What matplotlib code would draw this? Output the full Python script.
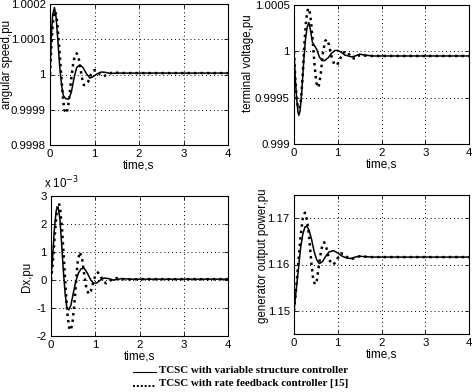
import numpy as np
import matplotlib
matplotlib.use('Agg')
import matplotlib.pyplot as plt
from matplotlib.ticker import MultipleLocator, FuncFormatter

plt.rcParams['font.family'] = 'Liberation Sans'
plt.rcParams['font.size'] = 8.5

# ---- data ----
# angular speed (pu)
t_w_vsc = [0, 0.03, 0.06, 0.1, 0.14, 0.18, 0.22, 0.26, 0.3, 0.35, 0.42, 0.48, 0.54, 0.6, 0.67, 0.74,
           0.82, 0.9, 0.98, 1.06, 1.15, 1.25, 1.35, 1.5, 1.7, 2.0, 4.0]
w_vsc = [1.0, 1.00011, 1.00017, 1.00019, 1.00016, 1.00009, 1.00002, 0.99997, 0.99994, 0.999932, 0.99993,
         0.99995, 0.99999, 1.00002, 1.000027, 1.00002, 1.000002, 0.99999, 0.999995, 1.000002, 1.000007,
         1.000006, 1.000003, 1.000004, 1.000004, 1.000004, 1.000004]
t_w_rfc = [0, 0.03, 0.06, 0.09, 0.12, 0.16, 0.2, 0.24, 0.28, 0.32, 0.375, 0.42, 0.47, 0.52, 0.56, 0.6, 0.64,
           0.68, 0.72, 0.76, 0.8, 0.86, 0.92, 0.97, 1.01, 1.06, 1.12, 1.2, 1.3, 1.4, 1.5, 1.7, 2.0, 4.0]
w_rfc = [1.0, 1.00008, 1.00014, 1.00017, 1.00018, 1.00015, 1.00009, 1.00002, 0.99995, 0.9999, 0.99989,
         0.99992, 0.99998, 1.00003, 1.000055, 1.00006, 1.00005, 1.00002, 0.99999, 0.99997, 0.99997, 0.99998,
         1.0, 1.00001, 1.000013, 1.00001, 1.0, 0.999995, 1.0, 1.000006, 1.000005, 1.000004, 1.000004, 1.000004]

# terminal voltage (pu)
t_v_vsc = [0, 0.03, 0.06, 0.09, 0.11, 0.14, 0.18, 0.22, 0.26, 0.3, 0.34, 0.38, 0.42, 0.47, 0.52, 0.58, 0.64,
           0.7, 0.78, 0.86, 0.94, 1.0, 1.08, 1.16, 1.24, 1.32, 1.4, 1.5, 1.6, 1.8, 2.0, 4.0]
v_vsc = [1.0, 0.9997, 0.9995, 0.99935, 0.99931, 0.99936, 0.99958, 0.99988, 1.00012, 1.00026, 1.00031,
         1.00022, 1.0001, 1.00006, 1.00002, 0.99994, 0.9999, 0.9999, 0.99993, 0.99998, 1.00001, 1.00001,
         0.99999, 0.99996, 0.99995, 0.99994, 0.99995, 0.99997, 0.99996, 0.99995, 0.99995, 0.99995]
t_v_rfc = [0, 0.03, 0.06, 0.09, 0.12, 0.16, 0.2, 0.24, 0.28, 0.32, 0.35, 0.39, 0.43, 0.47, 0.51, 0.56, 0.61,
           0.66, 0.71, 0.75, 0.8, 0.86, 0.92, 0.98, 1.04, 1.1, 1.17, 1.24, 1.32, 1.4, 1.5, 1.7, 2.0, 4.0]
v_rfc = [1.0, 0.9997, 0.99948, 0.9994, 0.99938, 0.99948, 0.99975, 1.0001, 1.00035, 1.00046, 1.00046,
         1.00032, 1.0001, 0.99985, 0.99966, 0.99961, 0.99975, 0.99998, 1.00011, 1.00013, 1.00007, 0.99994,
         0.99986, 0.99985, 0.9999, 0.99997, 1.0, 0.99998, 0.99993, 0.99992, 0.99996, 0.99995, 0.99995, 0.99995]

# Dx (x 10^-3 pu)
t_dx_vsc = [0, 0.04, 0.08, 0.12, 0.16, 0.2, 0.24, 0.28, 0.32, 0.36, 0.4, 0.45, 0.5, 0.56, 0.62, 0.68, 0.75,
            0.82, 0.9, 0.97, 1.04, 1.12, 1.2, 1.3, 1.4, 1.5, 1.6, 1.8, 2.0, 4.0]
dx_vsc = [0, 0.9, 1.9, 2.5, 2.6, 2.2, 1.3, 0.3, -0.5, -1.0, -1.07, -0.9, -0.5, -0.05, 0.25, 0.4, 0.42,
          0.25, 0.0, -0.12, -0.1, 0.0, 0.07, 0.05, 0.0, 0.02, 0.05, 0.03, 0.03, 0.03]
t_dx_rfc = [0, 0.04, 0.08, 0.12, 0.15, 0.18, 0.21, 0.25, 0.29, 0.33, 0.37, 0.41, 0.44, 0.48, 0.52, 0.56,
            0.6, 0.65, 0.7, 0.75, 0.8, 0.85, 0.9, 0.96, 1.01, 1.06, 1.12, 1.18, 1.25, 1.32, 1.4, 1.47, 1.55,
            1.7, 2.0, 4.0]
dx_rfc = [0, 0.6, 1.5, 2.3, 2.65, 2.75, 2.5, 1.8, 0.8, -0.3, -1.2, -1.7, -1.8, -1.6, -1.0, -0.2, 0.6, 1.0,
          0.8, 0.2, -0.3, -0.5, -0.4, -0.05, 0.2, 0.27, 0.15, -0.05, -0.12, -0.05, 0.05, 0.07, 0.04, 0.02,
          0.03, 0.03]

# generator output power (pu)
t_p_vsc = [0, 0.05, 0.1, 0.15, 0.2, 0.25, 0.29, 0.34, 0.4, 0.46, 0.52, 0.58, 0.65, 0.72, 0.8, 0.9, 1.0,
           1.1, 1.2, 1.3, 1.4, 1.5, 1.6, 1.8, 2.0, 4.0]
p_vsc = [1.15, 1.1545, 1.159, 1.1635, 1.1665, 1.1681, 1.1683, 1.1675, 1.1655, 1.1628, 1.161, 1.1602,
         1.1606, 1.1617, 1.1627, 1.163, 1.1625, 1.1618, 1.1614, 1.1613, 1.1616, 1.1618, 1.1617, 1.1616,
         1.1616, 1.1616]
t_p_rfc = [0, 0.05, 0.1, 0.15, 0.2, 0.25, 0.3, 0.35, 0.4, 0.44, 0.48, 0.52, 0.57, 0.62, 0.66, 0.69, 0.73,
           0.78, 0.84, 0.9, 0.96, 1.02, 1.08, 1.14, 1.2, 1.28, 1.36, 1.45, 1.55, 1.7, 2.0, 4.0]
p_rfc = [1.15, 1.155, 1.1605, 1.166, 1.17, 1.1712, 1.1695, 1.1655, 1.16, 1.1567, 1.1557, 1.1565, 1.1598,
         1.163, 1.1645, 1.1648, 1.164, 1.162, 1.1603, 1.16, 1.1606, 1.1618, 1.1624, 1.1623, 1.1617, 1.1612,
         1.1613, 1.1617, 1.1618, 1.1616, 1.1616, 1.1616]

legend_labels = ['TCSC with variable structure controller', 'TCSC with rate feedback controller [15]']

W, H = 474, 392
fig = plt.figure(figsize=(W / 100, H / 100), dpi=100)


def make_ax(l, r, t, b):
    return fig.add_axes([l / W, 1 - b / H, (r - l) / W, (b - t) / H])


def style(ax, ylim, ystep, ylabel, label_xy):
    ax.set_xlim(0, 4)
    ax.set_ylim(*ylim)
    ax.xaxis.set_major_locator(MultipleLocator(1))
    ax.yaxis.set_major_locator(MultipleLocator(ystep))
    ax.yaxis.set_major_formatter(FuncFormatter(lambda v, p: '%g' % round(v, 6)))
    ax.grid(True, color='black', linestyle=(0, (1, 3)), linewidth=0.7)
    ax.tick_params(direction='in', top=True, right=True, length=3, width=0.6, labelsize=8.2, pad=3)
    for s in ax.spines.values():
        s.set_linewidth(0.8)
    ax.set_xlabel('time,s', fontsize=8.5, labelpad=0)
    ax.set_ylabel(ylabel, fontsize=8.3)
    ax.yaxis.set_label_coords(*label_xy)


dot = (0, (1, 1.6))

ax1 = make_ax(50, 228, 4, 145)
ax1.plot(t_w_vsc, w_vsc, color='black', lw=1.1)
ax1.plot(t_w_rfc, w_rfc, color='black', lw=1.8, linestyle=dot)
style(ax1, (0.9998, 1.0002), 0.0001, 'angular speed,pu', (-0.207, 0.57))

ax2 = make_ax(294, 469, 5, 144)
ax2.plot(t_v_vsc, v_vsc, color='black', lw=1.1)
ax2.plot(t_v_rfc, v_rfc, color='black', lw=1.8, linestyle=dot)
style(ax2, (0.999, 1.0005), 0.0005, 'terminal voltage,pu', (-0.229, 0.58))

ax3 = make_ax(51, 228, 196, 336)
ax3.plot(t_dx_vsc, dx_vsc, color='black', lw=1.1)
ax3.plot(t_dx_rfc, dx_rfc, color='black', lw=1.8, linestyle=dot)
style(ax3, (-2, 3), 1, 'Dx,pu', (-0.10, 0.42))
ax3.text(-0.04, 1.035, 'x 10$^{-3}$', transform=ax3.transAxes, fontsize=8.3, va='bottom', ha='left')

ax4 = make_ax(294, 469, 195, 334)
ax4.plot(t_p_vsc, p_vsc, color='black', lw=1.1)
ax4.plot(t_p_rfc, p_rfc, color='black', lw=1.8, linestyle=dot)
style(ax4, (1.145, 1.175), 0.01, 'generator output power,pu', (-0.145, 0.56))

# legend drawn below the panels
fig.add_artist(plt.Line2D([133 / W, 156 / W], [1 - 372 / H, 1 - 372 / H], color='black', lw=0.8))
fig.add_artist(plt.Line2D([133 / W, 155 / W], [1 - 386 / H, 1 - 386 / H], color='black', lw=1.4,
                          linestyle=(0, (1, 1))))
fig.text(159 / W, 1 - 373 / H, legend_labels[0], family='Liberation Serif', fontweight='bold',
         fontsize=7.9, va='baseline', ha='left')
fig.text(159 / W, 1 - 386.5 / H, legend_labels[1], family='Liberation Serif', fontweight='bold',
         fontsize=7.9, va='baseline', ha='left')

fig.savefig('out.png', dpi=100)
